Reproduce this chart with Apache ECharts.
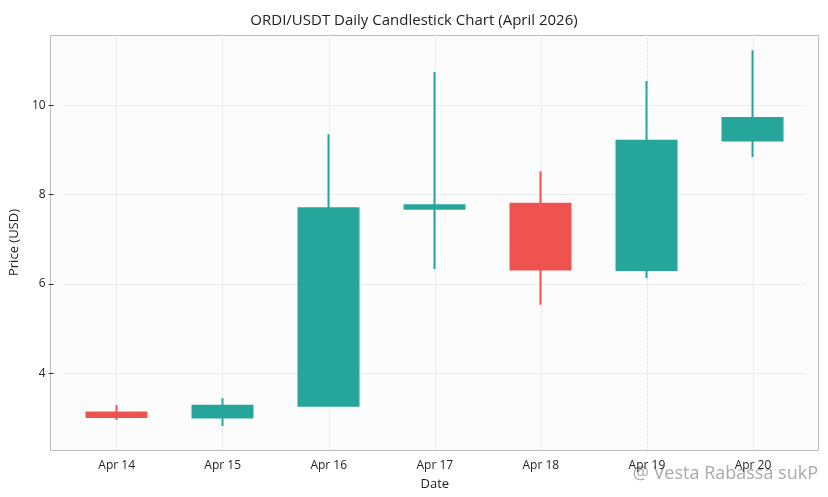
<!DOCTYPE html>
<html><head><meta charset="utf-8">
<script src="https://cdn.jsdelivr.net/npm/echarts@6/dist/echarts.min.js"></script>
<style>body{margin:0}#view{width:828px;height:497px}</style>
</head><body><div id="view"></div>
<script>
var myCharts = echarts.init(document.getElementById("view"));
/* 基础数据 */
var dates = ['Apr 14', 'Apr 15', 'Apr 16', 'Apr 17', 'Apr 18', 'Apr 19', 'Apr 20'];
// [open, close, low, high]
var ohlc = [
    [3.12, 3.02, 2.95, 3.29],
    [3.01, 3.27, 2.82, 3.44],
    [3.27, 7.69, 3.27, 9.35],
    [7.68, 7.76, 6.33, 10.74],
    [7.79, 6.32, 5.53, 8.52],
    [6.31, 9.20, 6.13, 10.54],
    [9.21, 9.71, 8.84, 11.23]
];
var yTicks = [4, 6, 8, 10];

var font = '"Open Sans", Roboto, sans-serif';
option = {
    backgroundColor: '#fff',
    title: {
        text: 'ORDI/USDT Daily Candlestick Chart (April 2026)',
        left: 'center', top: 8,
        textStyle: { fontFamily: font, fontSize: 15, fontWeight: 'normal', color: '#222' }
    },
    grid: { left: 60, right: 22, top: 35, bottom: 47 },
    xAxis: {
        type: 'category', data: dates, name: 'Date', nameLocation: 'middle', nameGap: 28,
        nameTextStyle: { fontFamily: font, fontSize: 13, color: '#222' },
        axisLine: { show: false },
        axisTick: { alignWithLabel: true, lineStyle: { color: '#333' } },
        axisLabel: { fontFamily: font, fontSize: 12, color: '#222', margin: 10 },
        splitLine: { show: false }
    },
    yAxis: {
        type: 'value', min: 2.28, max: 11.57, offset: 10, name: 'Price (USD)', nameLocation: 'middle', nameGap: 32,
        nameTextStyle: { fontFamily: font, fontSize: 13, color: '#222' },
        axisLine: { show: false },
        axisTick: { show: true, customValues: yTicks, lineStyle: { color: '#333' } },
        axisLabel: { customValues: yTicks, fontFamily: font, fontSize: 12, color: '#222', margin: 8 },
        splitLine: { show: true, lineStyle: { color: '#ddd', type: 'dotted' } }
    },
    series: [{
        type: 'candlestick',
        data: ohlc,
        barWidth: '57%',
        itemStyle: { color: '#26a69a', color0: '#ef5350', borderColor: '#26a69a', borderColor0: '#ef5350', borderWidth: 2 },
        markLine: {
            silent: true, symbol: 'none', label: { show: false }, z: 0,
            lineStyle: { color: '#ddd', type: 'dotted', width: 1 },
            data: dates.map(function (d) { return { xAxis: d }; })
        }
    }],
    graphic: [{
        type: 'rect', left: 50, top: 35, z: -1, silent: true,
        shape: { width: 768, height: 415 },
        style: { fill: '#fcfcfc', stroke: '#bbb', lineWidth: 1 }
    }, {
        type: 'text', right: 10, bottom: 14,
        style: { text: '@ Vesta Rabassa sukP', fontFamily: font, fontSize: 18, fill: 'rgba(140,140,140,0.75)' }
    }]
};
myCharts.setOption(option);
</script></body></html>
